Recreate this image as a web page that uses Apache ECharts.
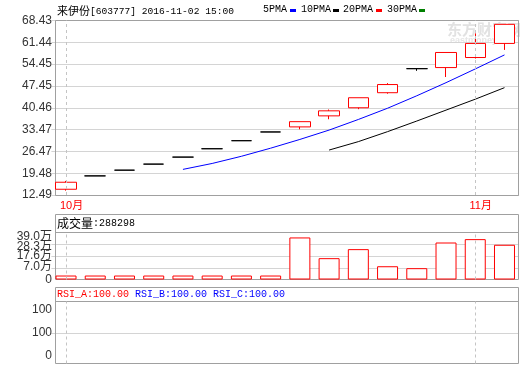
<!DOCTYPE html>
<html>
<head>
<meta charset="utf-8">
<script src="https://cdn.jsdelivr.net/npm/echarts/dist/echarts.min.js"></script>
<style>
html,body{margin:0;padding:0;background:#fff;}
#c{width:520px;height:365px;}
</style>
</head>
<body>
<div id="c"></div>
<script>
// ---- data ----
const dates = ['10-12','10-13','10-14','10-17','10-18','10-19','10-20','10-21','10-24','10-25','10-26','10-27','10-28','10-31','11-01','11-02'];
const openPrices  = [14.33, 18.62, 20.45, 22.39, 24.64, 27.32, 29.90, 32.70, 34.32, 37.86, 40.45, 45.28, 52.99, 53.34, 56.56, 61.08];
const closePrices = [16.58, 18.62, 20.45, 22.39, 24.64, 27.32, 29.90, 32.70, 36.00, 39.47, 43.67, 47.90, 52.99, 58.18, 61.08, 67.20];
const lowPrices   = [13.88, 18.62, 20.45, 22.39, 24.64, 27.32, 29.90, 32.70, 33.55, 36.77, 40.00, 44.96, 52.30, 50.31, 56.24, 59.00];
const highPrices  = [17.00, 18.62, 20.45, 22.39, 24.64, 27.32, 29.90, 32.70, 36.00, 39.90, 43.67, 48.35, 52.99, 58.18, 64.30, 67.20];
const ma5  = [null, null, null, null, 20.7, 22.6, 24.9, 27.5, 30.3, 33.3, 36.7, 40.3, 44.3, 48.5, 52.9, 57.4];
const ma10 = [null, null, null, null, null, null, null, null, null, 26.9, 29.6, 32.8, 36.2, 39.7, 43.2, 46.9];
const volumes = [3.3, 3.3, 3.3, 3.3, 3.3, 3.3, 3.3, 3.3, 34.9, 17.7, 25.2, 11.0, 9.4, 30.7, 33.5, 28.83]; // 万
const priceTickLabels = ['12.49','19.48','26.47','33.47','40.46','47.45','54.45','61.44','68.43'];
const volTickLabels = ['39.0万','28.3万','17.6万','7.0万','0'];
const rsiTickLabels = ['0','100','100'];
const monthTickDates = ['10-12','11-01'];
const monthTickLabels = ['10月','11月'];
const legendNames = ['5PMA','10PMA','20PMA','30PMA'];
const legendColors = ['#0000ff','#000000','#ff0000','#008000'];
const rsiNames = ['RSI_A','RSI_B','RSI_C'];
const rsiValues = ['100.00','100.00','100.00'];
const rsiColors = ['#ff0000','#0000ff','#0000ff'];
const titleName = '来伊份';
const titleRest = '[603777] 2016-11-02 15:00';
const volumeHeader = '成交量:288298';

// ---- layout ----
const GL = 51.4, GW = 467.7;
const frame = '#a0a0a0', gridC = '#d4d4d4', dashC = '#c4c4c4';
const axFont = "'Liberation Sans','Noto Sans CJK SC',sans-serif";

const priceMin = parseFloat(priceTickLabels[0]);
const priceMax = parseFloat(priceTickLabels[priceTickLabels.length - 1]);
const volMax = parseFloat(volTickLabels[0]);

const candleData = dates.map((d, i) => [openPrices[i], closePrices[i], lowPrices[i], highPrices[i]]);
const emptyData = dates.map(() => null);

function monthMarkLine(color) {
  return {
    silent: true, symbol: ['none', 'none'], label: {show: false},
    lineStyle: {color: color, type: [3, 3], width: 1},
    data: monthTickDates.map(d => ({xAxis: d}))
  };
}

function xAx(gi, show) {
  return {
    gridIndex: gi, type: 'category', data: dates, boundaryGap: true,
    axisLine: {show: false}, axisTick: {show: false}, splitLine: {show: false},
    axisLabel: show ? {
      show: true,
      interval: (idx, val) => monthTickDates.indexOf(val) >= 0,
      formatter: (val) => '{m|' + monthTickLabels[monthTickDates.indexOf(val)] + '}',
      rich: {m: {color: '#ff0000', fontSize: 11, fontFamily: axFont, padding: [0, 0, 0, 11]}},
      margin: 5, color: '#ff0000'
    } : {show: false}
  };
}

const graphics = [];
graphics.push({type: 'text', z: 0, style: {text: '东方财富网', x: 447, y: 22, font: "bold 15px 'Noto Sans CJK SC'", fill: '#e2e2e2'}});
graphics.push({type: 'text', z: 0, style: {text: 'eastmoney', x: 450, y: 36, font: "bold 9px 'Liberation Sans'", fill: '#e6e6e6'}});
graphics.push({type: 'rect', z: 1, shape: {x: 55.5, y: 20.5, width: 463, height: 175}, style: {fill: null, stroke: frame, lineWidth: 1}});
graphics.push({type: 'rect', z: 1, shape: {x: 55.5, y: 214.5, width: 463, height: 65}, style: {fill: null, stroke: frame, lineWidth: 1}});
graphics.push({type: 'line', z: 1, shape: {x1: 55.5, y1: 232.5, x2: 518.5, y2: 232.5}, style: {stroke: frame, lineWidth: 1}});
graphics.push({type: 'rect', z: 1, shape: {x: 55.5, y: 287.5, width: 463, height: 76}, style: {fill: null, stroke: frame, lineWidth: 1}});
graphics.push({type: 'line', z: 1, shape: {x1: 55.5, y1: 301.5, x2: 518.5, y2: 301.5}, style: {stroke: frame, lineWidth: 1}});
graphics.push({type: 'text', style: {
  text: '{c|' + titleName + '}{a|' + titleRest + '}', x: 57, y: 11, verticalAlign: 'middle',
  rich: {c: {font: "11px 'Noto Sans CJK SC'", fill: '#000'}, a: {font: "9.6px 'Liberation Mono'", fill: '#000'}}
}});
const legX = [263, 301, 343, 387];
const sqX = [290, 333, 376, 419];
legendNames.forEach((n, i) => {
  graphics.push({type: 'text', style: {text: n, x: legX[i], y: 9.5, verticalAlign: 'middle', font: "10px 'Liberation Mono'", fill: '#000'}});
  graphics.push({type: 'rect', shape: {x: sqX[i], y: 9, width: 6, height: 3}, style: {fill: legendColors[i]}});
});
graphics.push({type: 'text', style: {
  text: '{c|成交量}{a|' + volumeHeader.slice(3) + '}', x: 57, y: 223, verticalAlign: 'middle',
  rich: {c: {font: "12px 'Noto Sans CJK SC'", fill: '#000'}, a: {font: "10px 'Liberation Mono'", fill: '#000'}}
}});
const rsiX = [57, 135, 213];
rsiNames.forEach((n, i) => {
  graphics.push({type: 'text', style: {text: n + ':' + rsiValues[i], x: rsiX[i], y: 294.5, verticalAlign: 'middle', font: "10px 'Liberation Mono'", fill: rsiColors[i]}});
});

const labelStyle = {color: '#333', fontSize: 12, fontFamily: axFont, showMinLabel: true, showMaxLabel: true, hideOverlap: false};
const volLabelPad = [[9, 0], [5, 0], [0, 0], [0, 2], [0, 0]];
const volRich = {};
volLabelPad.forEach((p, i) => {
  volRich['v' + i] = {padding: [p[0], 0, p[1], 0], color: '#333', fontSize: 12, fontFamily: axFont};
});

const option = {
  animation: false,
  backgroundColor: '#fff',
  grid: [
    {left: GL, width: GW, top: 20.5, height: 174.5},
    {left: GL, width: GW, top: 232.5, height: 47},
    {left: GL, width: GW, top: 301.5, height: 62},
    {left: GL, width: GW, top: 310, height: 46}
  ],
  xAxis: [xAx(0, true), xAx(1, false), xAx(2, false), xAx(3, false)],
  yAxis: [
    {gridIndex: 0, type: 'value', min: priceMin, max: priceMax, show: false},
    {gridIndex: 0, type: 'value', min: 0, max: priceTickLabels.length - 1, interval: 1, position: 'left', offset: -3.6,
      axisLine: {show: false}, axisTick: {show: false},
      splitLine: {show: true, lineStyle: {color: gridC, width: 1}},
      axisLabel: Object.assign({margin: 3, formatter: (v) => priceTickLabels[Math.round(v)]}, labelStyle)},
    {gridIndex: 1, type: 'value', min: 0, max: volMax, show: false},
    {gridIndex: 1, type: 'category', data: volTickLabels.slice().reverse(), boundaryGap: false,
      position: 'left', offset: -3.6,
      axisLine: {show: false}, axisTick: {show: false},
      splitLine: {show: true, interval: 0, showMinLine: false, showMaxLine: false, lineStyle: {color: gridC, width: 1}},
      axisLabel: Object.assign({}, labelStyle, {margin: 3, interval: 0,
        formatter: (val) => '{v' + volTickLabels.indexOf(val) + '|' + val + '}',
        rich: volRich
      })},
    {gridIndex: 2, type: 'value', min: 0, max: 100, show: false},
    {gridIndex: 3, type: 'value', min: 0, max: rsiTickLabels.length - 1, interval: 1, position: 'left', offset: -3.6,
      axisLine: {show: false}, axisTick: {show: false},
      splitLine: {show: true, showMinLine: false, showMaxLine: false, lineStyle: {color: gridC, width: 1}},
      axisLabel: Object.assign({margin: 3, formatter: (v, i) => rsiTickLabels[i]}, labelStyle)}
  ],
  graphic: graphics,
  series: [
    {type: 'line', xAxisIndex: 0, yAxisIndex: 0, data: emptyData, z: 1, markLine: monthMarkLine(dashC)},
    {type: 'candlestick', xAxisIndex: 0, yAxisIndex: 0, data: candleData, barWidth: 21, z: 2,
      itemStyle: {color: '#ffffff', color0: '#00a800', borderColor: '#ff0000', borderColor0: '#00a800', borderColorDoji: '#000000', borderWidth: 1}},
    {type: 'line', xAxisIndex: 0, yAxisIndex: 0, data: ma5, showSymbol: false, symbol: 'none', z: 3,
      lineStyle: {color: '#0000ff', width: 1}, itemStyle: {color: '#0000ff'}},
    {type: 'line', xAxisIndex: 0, yAxisIndex: 0, data: ma10, showSymbol: false, symbol: 'none', z: 3,
      lineStyle: {color: '#000000', width: 1}, itemStyle: {color: '#000000'}},
    {type: 'line', xAxisIndex: 1, yAxisIndex: 2, data: emptyData, z: 1, markLine: monthMarkLine(dashC)},
    {type: 'bar', xAxisIndex: 1, yAxisIndex: 2, data: volumes, barWidth: 21, z: 2,
      itemStyle: {color: '#ffffff', borderColor: '#ff0000', borderWidth: 1}},
    {type: 'line', xAxisIndex: 2, yAxisIndex: 4, data: emptyData, z: 1, markLine: monthMarkLine(dashC)}
  ]
};

const chart = echarts.init(document.getElementById('c'), null, {renderer: 'canvas'});
chart.setOption(option);
</script>
</body>
</html>
